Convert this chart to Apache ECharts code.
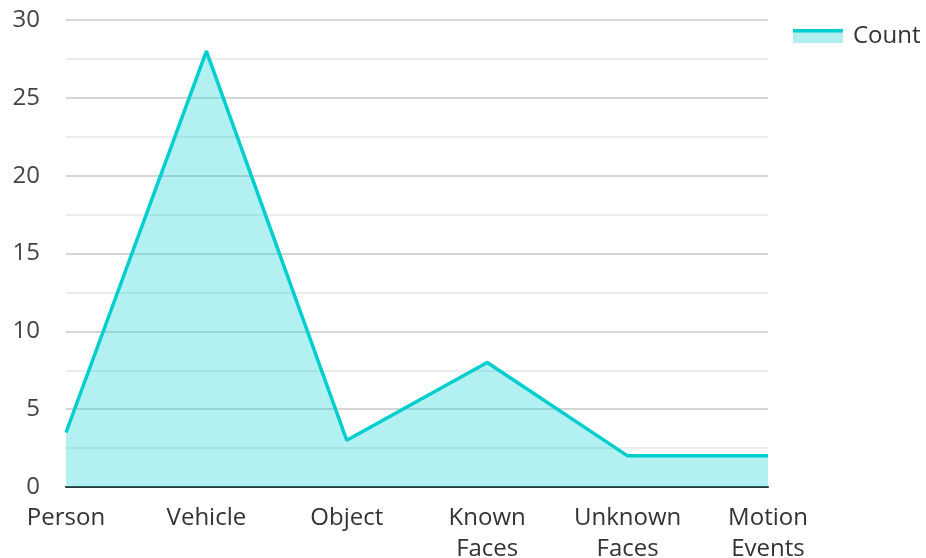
<!DOCTYPE html>
<html>
<head>
<meta charset="utf-8">
<script src="https://cdn.jsdelivr.net/npm/echarts@6/dist/echarts.min.js"></script>
<style>
  html, body { margin: 0; padding: 0; background: #fff; }
  #chart { width: 926px; height: 558px; }
</style>
</head>
<body>
<div id="chart"></div>
<script>
const categories = ['Person', 'Vehicle', 'Object', 'Known\nFaces', 'Unknown\nFaces', 'Motion\nEvents']
const counts = [3.5, 28, 3, 8, 2, 2]
const seriesName = 'Count'

const teal = '#00cecf'
const chart = echarts.init(document.getElementById('chart'))
chart.setOption({
  animation: false,
  textStyle: { fontFamily: 'Open Sans' },
  grid: { left: 66, right: 158, top: 20, bottom: 71, outerBoundsMode: 'none', containLabel: false },
  legend: {
    left: 788,
    top: 19,
    icon: 'rect',
    itemWidth: 50,
    itemHeight: 14,
    itemGap: 10,
    itemStyle: { color: '#b2efef', borderWidth: 0 },
    textStyle: { fontSize: 24, color: '#333', fontFamily: 'Open Sans', padding: [0, 0, 0, 5] },
    data: [seriesName]
  },
  graphic: [{
    type: 'rect',
    z: 100,
    shape: { x: 793, y: 29, width: 50, height: 3.5 },
    style: { fill: teal }
  }],
  xAxis: {
    type: 'category',
    boundaryGap: false,
    data: categories,
    axisLine: { lineStyle: { color: '#333', width: 2 } },
    axisTick: { show: false },
    axisLabel: {
      fontSize: 24,
      color: '#333',
      margin: 16,
      lineHeight: 31,
      interval: 0
    }
  },
  yAxis: {
    type: 'value',
    min: 0,
    max: 30,
    interval: 5,
    axisLine: { show: false },
    axisTick: { show: false },
    axisLabel: { fontSize: 24, color: '#444', margin: 26 },
    splitLine: { lineStyle: { color: '#c8c8c8', width: 1.5 } },
    minorTick: { show: false, splitNumber: 2 },
    minorSplitLine: { show: true, lineStyle: { color: '#e8e8e8', width: 1.5 } }
  },
  series: [{
    name: seriesName,
    type: 'line',
    data: counts,
    symbol: 'none',
    lineStyle: { color: teal, width: 3.5 },
    itemStyle: { color: teal },
    areaStyle: { color: teal, opacity: 0.3 }
  }]
})
</script>
</body>
</html>
